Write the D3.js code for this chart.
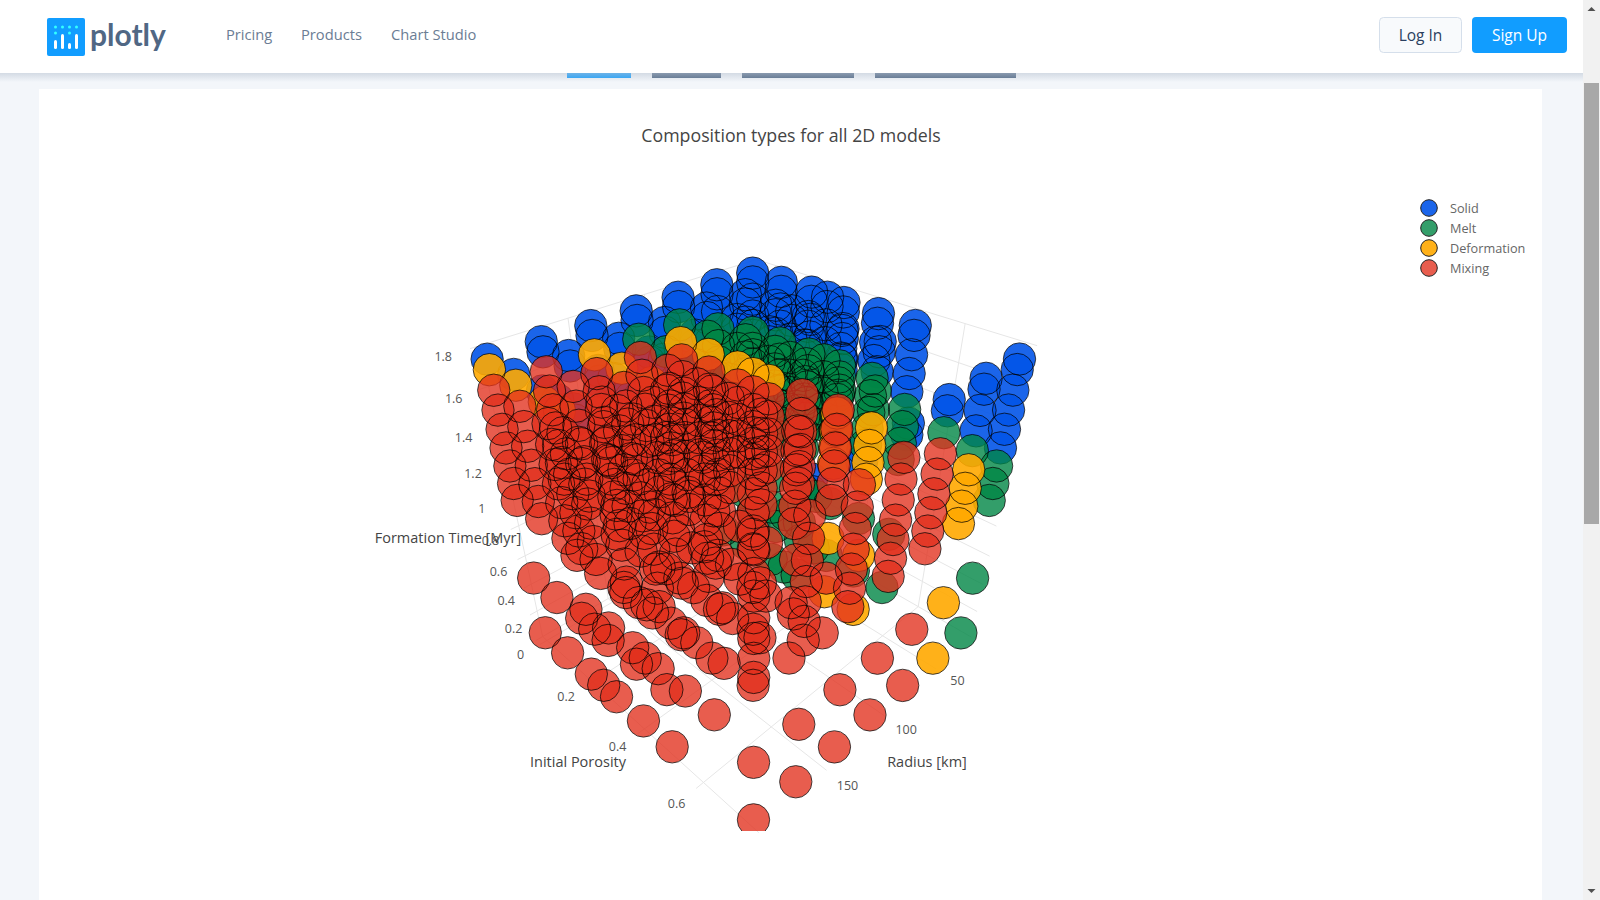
<!DOCTYPE html>
<html><head><meta charset="utf-8">
<style>html,body{margin:0;padding:0;width:1600px;height:900px;overflow:hidden;background:#f3f6fa}svg{display:block;font-family:"Open Sans",sans-serif}</style>
<script src="https://d3js.org/d3.v7.min.js"></script></head><body><div id="c"></div>
<script>
const radii=[20,50,80,110,140,170,200];
const porosities=[0,0.1,0.2,0.25,0.3,0.4,0.5,0.75];
const times=[0.1,0.5,1,1.1,1.2,1.3,1.4,1.5,1.6,1.7,1.75];
const types=[["S","Solid"],["M","Melt"],["D","Deformation"],["X","Mixing"]];
const r20=["MMMMMMMSSSS","MMMMMMMSSSS","MMMMMMMSSSS","MMMMMMMSSSS","MMMMMMMSSSS","MMMMMMMSSSS","MMMMMMSSSSS","MMMMMSSSSSS"];
const r50=["MMMMMMMMSSS","MMMMMMMMSSS","MMMMMMMMSSS","MMMMMMMMSSS","MMMMMMMMSSS","DDDDDDMMSSS","DDDDDDMMSSS","DDDDDDMSSSS"];
const r80=["XXXXXXXDMSS","XXXXXXXDMSS","XXXXXXXDMSS","XXXXXXXDMSS","XXXXXXXDMSS","XXXXXXXXMSS","XXXXXXXXMSS","XXXXXXXXMSS"];
const r110=["XXXXXXXXMSS","XXXXXXXXMSS","XXXXXXXXMSS","XXXXXXXXMSS","XXXXXXXXMSS","XXXXXXXXMSS","XXXXXXXXMSS","XXXXXXXXXSS"];
const r140=["XXXXXXXXDSS","XXXXXXXXDSS","XXXXXXXXDSS","XXXXXXXXXSS","XXXXXXXXXSS","XXXXXXXXXSS","XXXXXXXXXSS","XXXXXXXXXSS"];
const r170=["XXXXXXXXXSS","XXXXXXXXXSS","XXXXXXXXXSS","XXXXXXXXXSS","XXXXXXXXXSS","XXXXXXXXXSS","XXXXXXXXXSS","XXXXXXXXXSS"];
const r200=["XXXXXXXXXDS","XXXXXXXXXDS","XXXXXXXXXDS","XXXXXXXXXDS","XXXXXXXXXSS","XXXXXXXXXSS","XXXXXXXXXSS","XXXXXXXXXSS"];
const composition=[r20,r50,r80,r110,r140,r170,r200];
const rTicks=[50,100,150,200],pTicks=[0,0.2,0.4,0.6],tTicks=[0,0.2,0.4,0.6,0.8,1,1.2,1.4,1.6,1.8];
const rRange=[12,205],pRange=[-0.02,0.765];
const sR=d3.scaleLinear([0,200],[0,1]),sP=d3.scaleLinear([0,0.75],[0,1]),sT=d3.scaleLinear([0,2],[0,1]);
const gT=d3.scaleLinear([0,1.8],[0.04,1.8]);
const m=[-328.950834,33.937980,-159.157913,770.973997,6.613141,5.550452,-339.931645,514.059986,-0.193403,-0.174909,-0.211538];
const project=(r,p,t)=>{const X=sR(r),Y=sP(p),Z=sT(t),w=m[8]*X+m[9]*Y+m[10]*Z+1;return [(m[0]*X+m[1]*Y+m[2]*Z+m[3])/w,(m[4]*X+m[5]*Y+m[6]*Z+m[7])/w];};

const svg=d3.select("#c").append("svg").attr("width",1600).attr("height",900);
svg.append("rect").attr("width",1600).attr("height",900).attr("fill","#f3f6fa");
svg.append("rect").attr("x",39).attr("y",89).attr("width",1503).attr("height",811).attr("fill","#fff");
const grid=svg.append("g").attr("stroke","#e6e6e6").attr("stroke-width",1).attr("fill","none");
const seg=(a,b)=>grid.append("line").attr("x1",a[0]).attr("y1",a[1]).attr("x2",b[0]).attr("y2",b[1]);
const t0=gT(0),t1=gT(1.8);
rTicks.forEach(r=>{seg(project(r,pRange[0],t0),project(r,pRange[1],t0));seg(project(r,pRange[0],t0),project(r,pRange[0],t1));});
pTicks.forEach(p=>{seg(project(rRange[0],p,t0),project(rRange[1],p,t0));seg(project(rRange[0],p,t0),project(rRange[0],p,t1));});
tTicks.forEach(t=>{seg(project(rRange[0],pRange[0],gT(t)),project(rRange[1],pRange[0],gT(t)));seg(project(rRange[0],pRange[0],gT(t)),project(rRange[0],pRange[1],gT(t)));});
svg.append("clipPath").attr("id","gl").append("rect").attr("x",39).attr("y",89).attr("width",1503).attr("height",742);
const pts=[];radii.forEach((r,i)=>porosities.forEach((p,j)=>times.forEach((t,k)=>pts.push({r,p,t,c:composition[i][j][k]}))));
const fills={S:"rgba(2,84,232,.9)",M:"rgba(0,134,69,.8)",D:"rgba(255,168,0,.9)",X:"rgba(226,48,28,.78)"};
const gp=svg.append("g").attr("clip-path","url(#gl)");
types.forEach(([c])=>{const d=pts.filter(q=>q.c===c);
 gp.append("g").selectAll("circle").data(d).join("circle").attr("cx",q=>project(q.r,q.p,q.t)[0]).attr("cy",q=>project(q.r,q.p,q.t)[1]).attr("r",16).attr("fill",fills[c]);
 gp.append("g").selectAll("circle").data(d).join("circle").attr("cx",q=>project(q.r,q.p,q.t)[0]).attr("cy",q=>project(q.r,q.p,q.t)[1]).attr("r",16.2).attr("fill","none").attr("stroke","rgba(0,0,0,.8)").attr("stroke-width",.9);});
const lab=(x,y,s,fs,col,anc)=>svg.append("text").attr("x",x).attr("y",y).attr("font-size",fs).attr("fill",col||"#444").attr("text-anchor",anc||"middle").attr("dominant-baseline","central").text(s);
tTicks.forEach(t=>{const q=project(rRange[1],pRange[0],gT(t));lab(q[0]-15-12*t/1.8,q[1]+14-6*t/1.8,String(t),12.5,"#555");});
rTicks.slice(0,3).forEach(r=>{const q=project(r,pRange[1],t0);lab(q[0]+21,q[1]+9+r*0.04,String(r),12.5,"#555");});
pTicks.filter(p=>p>0).forEach(p=>{const q=project(rRange[1],p,t0);lab(q[0]-19.5,q[1]+12.5+(p-0.4)*12.5,String(p),12.5,"#555");});
lab(448,537,"Formation Time [Myr]",14.5);lab(578,761,"Initial Porosity",14.5);lab(927,761,"Radius [km]",14.5);
lab(791,135,"Composition types for all 2D models",17.75);
types.forEach(([c,n],i)=>{svg.append("circle").attr("cx",1429).attr("cy",208+i*20).attr("r",8.3).attr("fill",fills[c]).attr("stroke","#222").attr("stroke-width",1);lab(1450,208+i*20,n,12.7,"#666","start");});
svg.append("rect").attr("x",567).attr("y",70).attr("width",64).attr("height",8).attr("fill","#119dff");
[[652,69],[742,112],[875,141]].forEach(a=>svg.append("rect").attr("x",a[0]).attr("y",70).attr("width",a[1]).attr("height",8).attr("fill","#506784"));
const df=svg.append("defs").append("linearGradient").attr("id","sh").attr("x1",0).attr("x2",0).attr("y1",0).attr("y2",1);
df.append("stop").attr("offset",0).attr("stop-color","#b9c4d2").attr("stop-opacity",.55);df.append("stop").attr("offset",1).attr("stop-color","#b9c4d2").attr("stop-opacity",0);
svg.append("rect").attr("x",0).attr("y",73).attr("width",1583).attr("height",9).attr("fill","url(#sh)");
svg.append("rect").attr("width",1583).attr("height",73).attr("fill","#fff");
svg.append("rect").attr("x",47).attr("y",18).attr("width",38).attr("height",38).attr("rx",2).attr("fill","#119dff");
[[53,9],[60,15],[67,6],[74,15]].forEach(a=>{svg.append("rect").attr("x",a[0]+1).attr("y",49-a[1]).attr("width",3).attr("height",a[1]).attr("rx",1.5).attr("fill","#fff");svg.append("circle").attr("cx",a[0]+2.5).attr("cy",27).attr("r",1.5).attr("fill","#3ff");if(a[0]!=60&&a[0]!=74)svg.append("circle").attr("cx",a[0]+2.5).attr("cy",33).attr("r",1.5).attr("fill","#3ff");});
svg.append("text").attr("x",90).attr("y",46).attr("font-family","Lato").attr("font-weight",700).attr("font-size",30).attr("fill","#506784").text("plotly");
[["Pricing",226],["Products",301],["Chart Studio",391]].forEach(a=>lab(a[1],34,a[0],14.7,"#6b7d94","start"));
svg.append("rect").attr("x",1379.5).attr("y",17.5).attr("width",82).attr("height",35).attr("rx",4).attr("fill","#f8fafc").attr("stroke","#d5dfeb");
lab(1420.5,35,"Log In",15.5,"#2a3f5f");
svg.append("rect").attr("x",1472).attr("y",17).attr("width",95).attr("height",36).attr("rx",4).attr("fill","#119dff");
lab(1519.5,35,"Sign Up",15.5,"#fff");
svg.append("rect").attr("x",1583).attr("width",17).attr("height",900).attr("fill","#f1f1f1");
svg.append("rect").attr("x",1584).attr("y",83).attr("width",15).attr("height",441).attr("fill","#a8a8a8");
svg.append("path").attr("d","M1591.5 7l4 4h-8z").attr("fill","#505050");svg.append("path").attr("d","M1591.5 893l4-4h-8z").attr("fill","#505050");
</script></body></html>
